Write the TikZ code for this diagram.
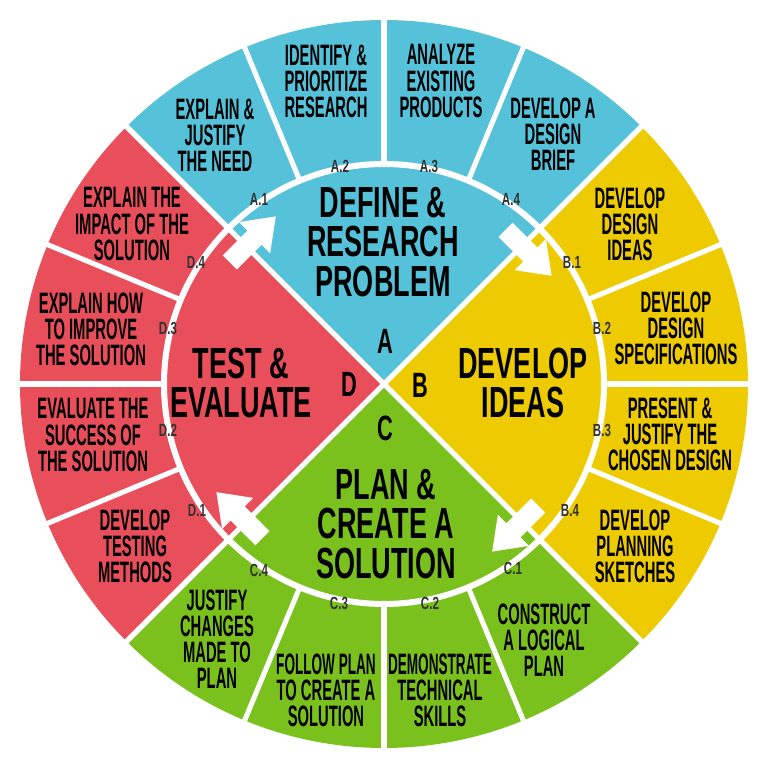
\documentclass[tikz,border=0pt]{standalone}
\usepackage{fontspec}
\setmainfont{Liberation Sans}
\newfontfamily\taskfont{Liberation Sans}[FakeStretch=0.5]
\newfontfamily\stagefont{Liberation Sans}[FakeStretch=0.62]
\newfontfamily\tagfont{Liberation Sans}[FakeStretch=0.66]

\definecolor{defblue}{HTML}{56C2DA}
\definecolor{devyellow}{HTML}{EECB00}
\definecolor{plangreen}{HTML}{7BC11E}
\definecolor{testred}{HTML}{E94F5A}
\definecolor{tagGray}{HTML}{333333}

% narrower line for the crowded bottom segments
\newcommand{\squeeze}[1]{\scalebox{0.92}[1]{#1}}

\begin{document}
\begin{tikzpicture}[
                x=0.025cm, y=0.025cm,
                task/.style={align=center, inner sep=0pt,
                        font=\taskfont\bfseries\fontsize{21}{18.5}\selectfont},
                stage/.style={align=center, inner sep=0pt,
                        font=\stagefont\bfseries\fontsize{31}{28}\selectfont},
                letter/.style={inner sep=0pt, font=\stagefont\bfseries\fontsize{25}{25}\selectfont},
                tag/.style={inner sep=0pt, text=tagGray, font=\tagfont\bfseries\fontsize{12.5}{12.5}\selectfont},
                divider/.style={white, line width=3.6pt},
                ring/.style={white, line width=4.3pt},
                turn/.style={fill=white},
            ]

            \useasboundingbox (-384,-384) rectangle (384,384);
            \fill[white] (-384,-384) rectangle (384,384);

            % --- quadrants --------------------------------------------------
            \fill[defblue]   (0,0) -- (45:364)   arc[start angle=45,   end angle=135, radius=364] -- cycle;
            \fill[devyellow] (0,0) -- (-45:364)  arc[start angle=-45,  end angle=45,  radius=364] -- cycle;
            \fill[plangreen] (0,0) -- (-135:364) arc[start angle=-135, end angle=-45, radius=364] -- cycle;
            \fill[testred]   (0,0) -- (135:364)  arc[start angle=135,  end angle=225, radius=364] -- cycle;

            % --- dividers ---------------------------------------------------
            \draw[ring] (0,0) circle[radius=220];
            \foreach \a in {0,22.5,...,337.5}
                \draw[divider] (\a:220) -- (\a:366);
            \foreach \a in {45,135,225,315}
                \draw[divider] (0,0) -- (\a:366);

            % --- cycle arrows -----------------------------------------------
            \foreach \a in {135,45,-45,-135}
                \fill[turn, shift={(\a:195)}, rotate=\a-90]
                    (-23,-10) -- (12,-10) -- (12,-22) -- (42,0) -- (12,22) -- (12,10) -- (-23,10) -- cycle;

            % --- stages -----------------------------------------------------
            \node[stage]  (stageA)  at (-1,142)  {DEFINE \&\\RESEARCH\\PROBLEM};
            \node[stage]  (stageB)  at (139,1)   {DEVELOP\\IDEAS};
            \node[stage]  (stageC)  at (2,-140)  {PLAN \&\\CREATE A\\SOLUTION};
            \node[stage]  (stageD)  at (-143,1)  {TEST \&\\EVALUATE};
            \node[letter] (letterA) at (1,43)    {A};
            \node[letter] (letterB) at (36,-1)   {B};
            \node[letter] (letterC) at (1,-44)   {C};
            \node[letter] (letterD) at (-35,0)   {D};

            % --- define & research ------------------------------------------
            \node[task] (a1) at (-169,249) {EXPLAIN \&\\JUSTIFY\\THE NEED};
            \node[task] (a2) at (-58,303)  {IDENTIFY \&\\PRIORITIZE\\RESEARCH};
            \node[task] (a3) at (57,303)   {ANALYZE\\EXISTING\\PRODUCTS};
            \node[task] (a4) at (169,250)  {DEVELOP A\\DESIGN\\BRIEF};

            % --- develop ideas ----------------------------------------------
            \node[task] (b1) at (246,160)  {DEVELOP\\DESIGN\\IDEAS};
            \node[task] (b2) at (292,56)   {DEVELOP\\DESIGN\\SPECIFICATIONS};
            \node[task] (b3) at (286,-50)  {PRESENT \&\\JUSTIFY THE\\CHOSEN DESIGN};
            \node[task] (b4) at (251,-162) {DEVELOP\\PLANNING\\SKETCHES};

            % --- plan & create ----------------------------------------------
            \node[task] (c1) at (160,-256) {CONSTRUCT\\A LOGICAL\\PLAN};
            \node[task] (c2) at (56,-306)  {\squeeze{DEMONSTRATE}\\TECHNICAL\\SKILLS};
            \node[task] (c3) at (-58,-306) {\squeeze{FOLLOW PLAN}\\TO CREATE A\\SOLUTION};
            \node[task] (c4) at (-167,-255) {JUSTIFY\\CHANGES\\MADE TO\\PLAN};

            % --- test & evaluate --------------------------------------------
            \node[task] (d1) at (-249,-162) {DEVELOP\\TESTING\\METHODS};
            \node[task] (d2) at (-291,-51)  {EVALUATE THE\\SUCCESS OF\\THE SOLUTION};
            \node[task] (d3) at (-293,55)   {EXPLAIN HOW\\TO IMPROVE\\THE SOLUTION};
            \node[task] (d4) at (-252,160)  {EXPLAIN THE\\IMPACT OF THE\\SOLUTION};

            % --- step tags --------------------------------------------------
            \node[tag] (tagA1) at (-125,185) {A.1};
            \node[tag] (tagA2) at (-44,218)  {A.2};
            \node[tag] (tagA3) at (45,218)   {A.3};
            \node[tag] (tagA4) at (127,185)  {A.4};
            \node[tag] (tagB1) at (188,122)  {B.1};
            \node[tag] (tagB2) at (218,56)   {B.2};
            \node[tag] (tagB3) at (218,-46)  {B.3};
            \node[tag] (tagB4) at (186,-126) {B.4};
            \node[tag] (tagC1) at (129,-184) {C.1};
            \node[tag] (tagC2) at (46,-219)  {C.2};
            \node[tag] (tagC3) at (-45,-219) {C.3};
            \node[tag] (tagC4) at (-125,-186) {C.4};
            \node[tag] (tagD1) at (-187,-126) {D.1};
            \node[tag] (tagD2) at (-216,-46)  {D.2};
            \node[tag] (tagD3) at (-216,56)   {D.3};
            \node[tag] (tagD4) at (-188,122)  {D.4};
        \end{tikzpicture}
\end{document}
